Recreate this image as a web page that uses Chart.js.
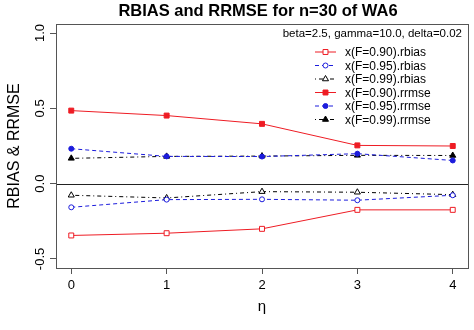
<!DOCTYPE html>
<html>
<head>
<meta charset="utf-8">
<script src="https://cdn.jsdelivr.net/npm/chart.js@4"></script>
<style>body{margin:0;background:#fff}</style>
</head>
<body>
<canvas id="chart" width="474" height="330"></canvas>
<script>
var eta = [0, 1, 2, 3, 4];
var rbias90 = [-0.344, -0.329, -0.300, -0.174, -0.174];
var rbias95 = [-0.157, -0.106, -0.104, -0.110, -0.077];
var rbias99 = [-0.077, -0.095, -0.053, -0.057, -0.073];
var rrmse90 = [0.485, 0.452, 0.397, 0.254, 0.250];
var rrmse95 = [0.232, 0.181, 0.180, 0.199, 0.154];
var rrmse99 = [0.168, 0.181, 0.183, 0.188, 0.187];
var seriesNames = ["x(F=0.90).rbias", "x(F=0.95).rbias", "x(F=0.99).rbias",
                   "x(F=0.90).rrmse", "x(F=0.95).rrmse", "x(F=0.99).rrmse"];
var xTicks = [0, 1, 2, 3, 4];
var yTicks = [-0.5, 0, 0.5, 1.0];
var yTickLabels = ["-0.5", "0.0", "0.5", "1.0"];
var mainTitle = "RBIAS and RRMSE for n=30 of WA6";
var legendTitle = "beta=2.5, gamma=10.0, delta=0.02";

var FONT = "'Liberation Sans', Arial, sans-serif";
var RED = "#ee1c24", BLUE = "#1c1cdc", BLACK = "#000000";

function series(name, vals, color, dash, style, filled, r) {
    return {
        label: name,
        data: vals.map(function (v, i) { return {x: eta[i], y: v}; }),
        borderColor: color,
        borderWidth: 1,
        borderDash: dash,
        pointStyle: style,
        pointRadius: r,
        pointHoverRadius: r,
        pointBorderWidth: 1,
        pointBorderColor: color,
        pointBackgroundColor: filled ? color : "#ffffff",
        tension: 0,
        fill: false
    };
}

var dashLty2 = [4, 3];
var dashLty4 = [1, 3, 4, 3];

var datasets = [
    series(seriesNames[0], rbias90, RED, [], "rect", false, 3.5),
    series(seriesNames[1], rbias95, BLUE, dashLty2, "circle", false, 2.5),
    series(seriesNames[2], rbias99, BLACK, dashLty4, "triangle", false, 3.5),
    series(seriesNames[3], rrmse90, RED, [], "rect", true, 3.5),
    series(seriesNames[4], rrmse95, BLUE, dashLty2, "circle", true, 2.5),
    series(seriesNames[5], rrmse99, BLACK, dashLty4, "triangle", true, 3.5)
];

function marker(ctx, ds, x, y) {
    var r = ds.pointRadius;
    ctx.save();
    ctx.setLineDash([]);
    ctx.lineWidth = 1;
    ctx.strokeStyle = ds.pointBorderColor;
    ctx.fillStyle = ds.pointBackgroundColor;
    ctx.beginPath();
    if (ds.pointStyle === "rect") {
        var s = Math.SQRT1_2 * r;
        ctx.rect(x - s, y - s, 2 * s, 2 * s);
    } else if (ds.pointStyle === "circle") {
        ctx.arc(x, y, r, 0, Math.PI * 2);
    } else {
        ctx.moveTo(x, y - r);
        ctx.lineTo(x + r * 0.866, y + r * 0.5);
        ctx.lineTo(x - r * 0.866, y + r * 0.5);
        ctx.closePath();
    }
    ctx.fill();
    ctx.stroke();
    ctx.restore();
}

var decorations = {
    id: "decorations",
    beforeDatasetsDraw: function (chart) {
        var ctx = chart.ctx, a = chart.chartArea;
        var y0 = chart.scales.y.getPixelForValue(0);
        ctx.save();
        ctx.strokeStyle = "#222";
        ctx.lineWidth = 1;
        ctx.beginPath();
        ctx.moveTo(a.left, Math.round(y0) + 0.5);
        ctx.lineTo(a.right, Math.round(y0) + 0.5);
        ctx.stroke();
        ctx.strokeStyle = "#555";
        ctx.strokeRect(Math.round(a.left) + 0.5, Math.round(a.top) + 0.5,
                       Math.round(a.right - a.left), Math.round(a.bottom - a.top));
        ctx.restore();
    },
    afterDraw: function (chart) {
        var ctx = chart.ctx, a = chart.chartArea;
        var ys = chart.scales.y;
        ctx.save();
        // main title
        ctx.fillStyle = "#000";
        ctx.font = "bold 16.5px " + FONT;
        ctx.textAlign = "center";
        ctx.textBaseline = "middle";
        ctx.fillText(mainTitle, (a.left + a.right) / 2 - 4, 11);
        // rotated y tick labels
        ctx.font = "13px " + FONT;
        yTicks.forEach(function (v, i) {
            ctx.save();
            ctx.translate(40, ys.getPixelForValue(v));
            ctx.rotate(-Math.PI / 2);
            ctx.fillText(yTickLabels[i], 0, 0);
            ctx.restore();
        });
        // legend
        ctx.font = "11.5px " + FONT;
        ctx.textAlign = "right";
        ctx.fillText(legendTitle, 462, 34);
        ctx.font = "12px " + FONT;
        ctx.textAlign = "left";
        chart.data.datasets.forEach(function (ds, i) {
            var y = 52 + i * 13.5;
            ctx.save();
            ctx.strokeStyle = ds.borderColor;
            ctx.lineWidth = 1;
            ctx.setLineDash(ds.borderDash);
            ctx.beginPath();
            ctx.moveTo(315, y);
            ctx.lineTo(336, y);
            ctx.stroke();
            ctx.restore();
            marker(ctx, ds, 325.5, y);
            ctx.fillStyle = "#000";
            ctx.fillText(ds.label, 345, y + 1);
        });
        ctx.restore();
    }
};

new Chart(document.getElementById("chart"), {
    type: "line",
    data: {datasets: datasets},
    options: {
        responsive: false,
        animation: false,
        layout: {padding: {top: 24, right: 6, left: 0, bottom: 0}},
        plugins: {legend: {display: false}, tooltip: {enabled: false}, title: {display: false}},
        scales: {
            x: {
                type: "linear",
                min: -0.16,
                max: 4.16,
                afterBuildTicks: function (s) { s.ticks = xTicks.map(function (v) { return {value: v}; }); },
                afterFit: function (s) { s.height = 62; },
                grid: {drawOnChartArea: false, drawTicks: true, tickLength: 6, color: "#555"},
                border: {display: false},
                ticks: {color: "#000", font: {family: FONT, size: 13}, padding: 4, maxRotation: 0,
                        callback: function (v) { return String(v); }},
                title: {display: true, text: "η", color: "#000", font: {family: FONT, size: 15}, padding: {top: 4, bottom: 14}}
            },
            y: {
                type: "linear",
                min: -0.56,
                max: 1.06,
                afterBuildTicks: function (s) { s.ticks = yTicks.map(function (v) { return {value: v}; }); },
                afterFit: function (s) { s.width = 56; },
                grid: {drawOnChartArea: false, drawTicks: true, tickLength: 6, color: "#555"},
                border: {display: false},
                ticks: {display: false},
                title: {display: true, text: "RBIAS & RRMSE", color: "#000", font: {family: FONT, size: 16}, padding: {top: 5, bottom: 0}}
            }
        }
    },
    plugins: [decorations]
});
</script>
</body>
</html>
